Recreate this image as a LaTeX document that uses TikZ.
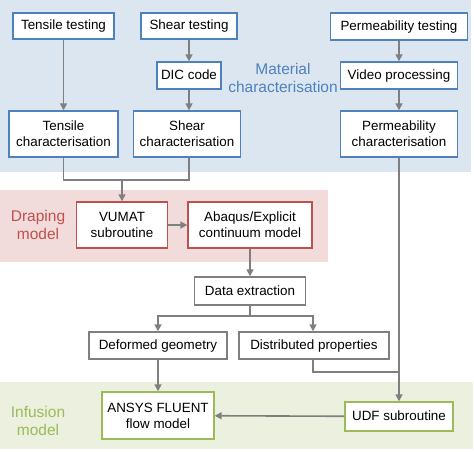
\documentclass[tikz,border=0pt]{standalone}
\usepackage{fontspec}
\setmainfont{Liberation Sans}
\usetikzlibrary{arrows.meta}
\tikzset{>={Triangle[width=7pt,length=7pt]}}
\definecolor{matblue}{HTML}{4F81BD}
\definecolor{matbg}{HTML}{DCE6F1}
\definecolor{drapred}{HTML}{C0504D}
\definecolor{drapbg}{HTML}{F2DCDB}
\definecolor{infgreen}{HTML}{9BBB59}
\definecolor{infbg}{HTML}{EBF1DE}
\definecolor{flowgrey}{HTML}{7F7F7F}
\newcommand{\BOXFONT}{\fontsize{13.4}{16}\selectfont}
\newcommand{\LABFONT}{\fontsize{15.5}{18}\selectfont}

\begin{document}
\begin{tikzpicture}[x=1pt, y=-1pt, line width=1.4pt,
  box/.style={draw, fill=white, inner sep=0pt, font=\BOXFONT,
    text height=10.5pt, text depth=2.5pt},
  twoline/.style={align=center, text height={}, text depth={}},
  matbox/.style={box, draw=matblue},
  drapbox/.style={box, draw=drapred},
  infbox/.style={box, draw=infgreen},
  databox/.style={box, draw=flowgrey},
  grouplabel/.style={align=center, font=\LABFONT},
  flow/.style={draw=flowgrey, line width=1.6pt, ->},
  link/.style={draw=flowgrey, line width=1.6pt}]

\useasboundingbox (0,0) rectangle (474,452);

% backgrounds
\fill[matbg]  (0,0)   rectangle (471,172);
\fill[drapbg] (0,190) rectangle (328,262);
\fill[infbg]  (0,382) rectangle (473,449);

\node[grouplabel, text=matblue]   (matlab)  at (283,78)  {Material\\characterisation};
\node[grouplabel, text=drapred]   (draplab) at (38,225)  {Draping\\model};
\node[grouplabel, text=infgreen]  (inflab)  at (38,421)  {Infusion\\model};

% material characterisation
\node[matbox, minimum width=101pt, minimum height=26pt] (tt)  at (63.5,26)  {Tensile testing};
\node[matbox, minimum width=96pt,  minimum height=26pt] (st)  at (189,26)   {Shear testing};
\node[matbox, minimum width=137pt, minimum height=27pt] (pt)  at (399,26.5) {Permeability testing};
\node[matbox, minimum width=64pt,  minimum height=27pt] (dic) at (189,75.5) {DIC code};
\node[matbox, minimum width=117pt, minimum height=27pt] (vp)  at (399,75.5) {Video processing};
\node[matbox, twoline, minimum width=109pt, minimum height=46pt] (tc) at (63.5,134) {Tensile\\characterisation};
\node[matbox, twoline, minimum width=107pt, minimum height=46pt] (sc) at (187,134)  {Shear\\characterisation};
\node[matbox, twoline, minimum width=117pt, minimum height=46pt] (pc) at (399,134)  {Permeability\\characterisation};

% draping
\node[drapbox, twoline, minimum width=91pt,  minimum height=46pt] (vumat)  at (122,225) {VUMAT\\subroutine};
\node[drapbox, twoline, minimum width=124pt, minimum height=46pt] (abaqus) at (250,225) {Abaqus/Explicit\\continuum model};

% data
\node[databox, minimum width=111pt, minimum height=28pt] (de) at (250,291)   {Data extraction};
\node[databox, minimum width=138pt, minimum height=27pt] (dg) at (158,345.5) {Deformed geometry};
\node[databox, minimum width=150pt, minimum height=27pt] (dp) at (314,345.5) {Distributed properties};

% infusion
\node[infbox, twoline, minimum width=112pt, minimum height=47pt] (ansys) at (158,415.5) {ANSYS FLUENT\\flow model};
\node[infbox, minimum width=108pt, minimum height=29pt] (udf) at (399,416.5) {UDF subroutine};

\coordinate (join)  at (122,180);
\coordinate (split) at (250,316);
\coordinate (merge) at (399,372);

\draw[flow] (tt) -- (tc);
\draw[flow] (st) -- (dic);
\draw[flow] (dic) -- (dic |- sc.north);
\draw[flow] (pt) -- (vp);
\draw[flow] (vp) -- (pc);

\draw[link] (tc.south) |- (join) -| (dic |- sc.south);
\draw[flow] (join) -- (vumat);
\draw[flow] (vumat) -- (abaqus);
\draw[flow] (abaqus) -- (de);

\draw[link] (de.south) -- (split);
\draw[flow] (split) -| (dg.north);
\draw[flow] (split) -| ([xshift=-1pt]dp.north);
\draw[link] ([xshift=-1pt]dp.south) |- (merge);

\draw[flow] (pc) -- (udf);
\draw[flow] (dg) -- (ansys);
\draw[flow] (udf) -- (ansys);
\end{tikzpicture}
\end{document}
